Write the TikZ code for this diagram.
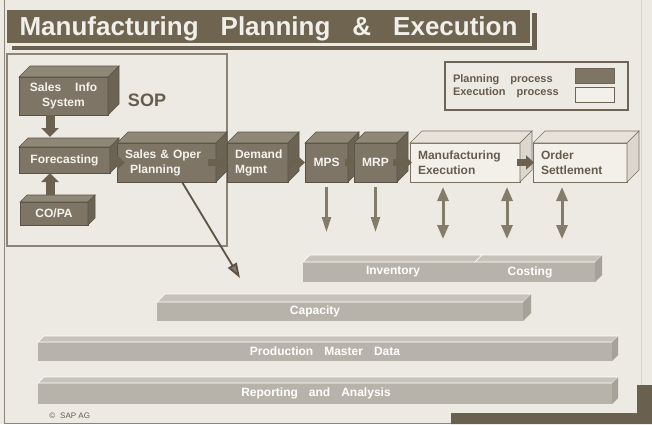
\documentclass[tikz,border=0pt]{standalone}
\usepackage{fontspec}
\setmainfont{Liberation Sans}
\usepackage{tikz}
\usepackage{xcolor}
\usetikzlibrary{arrows.meta, positioning}

\definecolor{paper}{HTML}{EDEAE3}
\definecolor{paperedge}{HTML}{DAD6CE}
\definecolor{frameline}{HTML}{8C8478}
\definecolor{frameshadow}{HTML}{6A604F}
\definecolor{titlebrown}{HTML}{6F6450}
\definecolor{titletext}{HTML}{F1EFEA}
\definecolor{planfront}{HTML}{7E7566}
\definecolor{plantopc}{HTML}{8F8777}
\definecolor{plansidec}{HTML}{6B6354}
\definecolor{planline}{HTML}{5A5246}
\definecolor{execfront}{HTML}{F3F0EA}
\definecolor{exectopc}{HTML}{E6E2DA}
\definecolor{execsidec}{HTML}{DCD7CE}
\definecolor{execline}{HTML}{7A7060}
\definecolor{boxwhite}{HTML}{F4F2EC}
\definecolor{inkbrown}{HTML}{665C4E}
\definecolor{barfront}{HTML}{B8B3AA}
\definecolor{bartopc}{HTML}{C8C3BA}
\definecolor{barsidec}{HTML}{A7A298}
\definecolor{flowbrown}{HTML}{6B6150}
\definecolor{feedgray}{HTML}{857B6B}
\definecolor{lineink}{HTML}{5C5345}
\definecolor{legendline}{HTML}{6E6556}

\newcommand{\titlefont}{\bfseries\fontsize{26}{30}\selectfont\spaceskip=22pt\relax}
\newcommand{\barfont}{\bfseries\fontsize{12}{14}\selectfont\spaceskip=11pt\relax}
\newcommand{\legendfont}{\bfseries\fontsize{11}{13}\selectfont}

% top and side face of a box, #1 node, #2 depth, #3 planning/exec/bar
\newcommand{\cubefaces}[3]{%
  \filldraw[#3top] (#1.north west) -- ([shift={(#2pt,#2pt)}]#1.north west)
    -- ([shift={(#2pt,#2pt)}]#1.north east) -- (#1.north east) -- cycle;
  \filldraw[#3side] (#1.north east) -- ([shift={(#2pt,#2pt)}]#1.north east)
    -- ([shift={(#2pt,#2pt)}]#1.south east) -- (#1.south east) -- cycle;
}

\begin{document}
\begin{tikzpicture}[x=1pt, y=-1pt, semithick]
    \tikzstyle{planbox}=[rectangle, draw=planline, fill=planfront, text=boxwhite, font=\bfseries\fontsize{12}{15}\selectfont, inner xsep=8pt, inner ysep=0pt, outer sep=0pt, minimum height=39pt, align=left]
    \tikzstyle{execbox}=[planbox, draw=execline, fill=execfront, text=inkbrown]
    \tikzstyle{plantop}=[fill=plantopc, draw=planline]
    \tikzstyle{planside}=[fill=plansidec, draw=planline]
    \tikzstyle{exectop}=[fill=exectopc, draw=execline]
    \tikzstyle{execside}=[fill=execsidec, draw=execline]
    \tikzstyle{databar}=[rectangle, fill=barfront, text=white, font=\barfont, inner sep=0pt, outer sep=0pt]
    \tikzstyle{bartop}=[fill=bartopc, draw=white, line width=0.6pt]
    \tikzstyle{barside}=[fill=barsidec, draw=none]
    \tikzstyle{blockflow}=[-{Triangle[width=14pt,length=8pt]}, line width=7pt, draw=flowbrown]
    \tikzstyle{feed}=[-{Triangle[width=9pt,length=15pt]}, line width=2.5pt, draw=feedgray]
    \tikzstyle{feedboth}=[{Triangle[width=11pt,length=14pt]}-{Triangle[width=11pt,length=14pt]}, line width=3pt, draw=feedgray]
    \tikzstyle{swatch}=[rectangle, draw=legendline, minimum width=39pt, minimum height=15pt, inner sep=0pt]

    \useasboundingbox (0,0) rectangle (652,424);
    \fill[paper] (0,0) rectangle (652,424);
    \fill[frameshadow] (451,413) -- (637,413) -- (637,385) -- (652,385) -- (652,424) -- (451,424) -- cycle;
    \draw[frameline] (4,0) -- (4,423) -- (451,423);
    \draw[paperedge, line width=1pt] (641,0) -- (641,385);

    % title
    \fill[frameshadow] (12,46) rectangle (537,50);
    \fill[frameshadow] (532,13) rectangle (537,50);
    \node[fill=titlebrown, text=titletext, font=\titlefont, minimum width=523pt, minimum height=33pt, inner sep=0pt, text depth=0pt] (title) at (268.5,26.5) {Manufacturing Planning \& Execution};

    % SOP area
    \draw[frameline, line width=1.2pt] (7,54) rectangle (227,246);
    \node[font=\bfseries\fontsize{18}{20}\selectfont, text=inkbrown] (soplabel) at (147,100) {SOP};

    \node[planbox, text width=73pt, align=center, minimum height=38pt] (sis) at (63.5,96) {Sales\hspace{14pt}Info\\System};
    \cubefaces{sis}{11}{plan}
    \node[planbox, text width=75pt, align=center, minimum height=26pt] (fc) at (64.5,160) {Forecasting};
    \cubefaces{fc}{9}{plan}
    \node[planbox, text width=52pt, align=center, minimum height=23pt] (copa) at (54,213.5) {CO/PA};
    \cubefaces{copa}{7}{plan}

    % process chain
    \node[planbox, text width=83pt] (sop) at (166.5,162.5) {Sales \& Oper\\\hspace*{5pt}Planning};
    \cubefaces{sop}{11}{plan}
    \node[planbox, text width=45pt, right=11pt of sop] (dem) {Demand\\Mgmt};
    \cubefaces{dem}{11}{plan}
    \node[planbox, text width=27pt, align=center, right=17pt of dem] (mps) {MPS};
    \cubefaces{mps}{11}{plan}
    \node[planbox, text width=27pt, align=center, right=6pt of mps] (mrp) {MRP};
    \cubefaces{mrp}{11}{plan}
    \node[execbox, text width=94pt, right=13pt of mrp] (mex) {Manufacturing\\Execution};
    \cubefaces{mex}{12}{exec}
    \node[execbox, text width=78pt, right=13pt of mex] (ost) {Order\\Settlement};
    \cubefaces{ost}{12}{exec}

    \draw[blockflow] ([yshift=-2.5pt]fc.east) -- ([xshift=8pt]sop.west);
    \draw[blockflow] ([xshift=-8pt]sop.east) -- ([xshift=1pt]dem.west);
    \draw[blockflow] (dem.east) -- (mps.west);
    \draw[blockflow] ([xshift=-3pt]mps.east) -- ([xshift=1pt]mrp.west);
    \draw[blockflow] ([xshift=-4pt]mrp.east) -- ([xshift=2pt]mex.west);
    \draw[blockflow] ([xshift=-3pt]mex.east) -- ([xshift=1pt]ost.west);
    \draw[blockflow, line width=9pt, -{Triangle[width=17pt,length=9pt]}] ([xshift=-13.5pt]sis.south) -- ([xshift=-14.5pt,yshift=10pt]fc.north);
    \draw[blockflow, line width=9pt, -{Triangle[width=17pt,length=9pt]}] ([xshift=-4pt,yshift=7pt]copa.north) -- ([xshift=-14.5pt]fc.south);

    % legend
    \node[draw=legendline, line width=2.5pt, minimum width=183pt, minimum height=48pt, text width=167pt, inner xsep=8pt, align=left, font=\legendfont, text=inkbrown] (legend) at (536.5,86) {Planning\hspace{11pt}process\\Execution\hspace{11pt}process};
    \node[swatch, fill=planfront] (planswatch) at (594.5,75.5) {};
    \node[swatch, fill=execfront] (execswatch) at (594.5,94.5) {};

    % data bars
    \node[databar, minimum width=172pt, minimum height=20pt] (inv) at (389,272) {\hspace*{8pt}Inventory};
    \cubefaces{inv}{7}{bar}
    \node[databar, minimum width=120pt, minimum height=20pt] (cost) at (535,272) {Costing\hspace*{10pt}};
    \cubefaces{cost}{7}{bar}
    \node[databar, minimum width=366pt, minimum height=19pt] (cap) at (340,311.5) {Capacity\hspace*{50pt}};
    \cubefaces{cap}{8}{bar}
    \node[databar, minimum width=574pt, minimum height=19pt] (pmd) at (325,351.5) {Production Master Data};
    \cubefaces{pmd}{6}{bar}
    \node[databar, minimum width=574pt, minimum height=21pt] (rep) at (325,393.5) {Reporting and Analysis\hspace*{18pt}};
    \cubefaces{rep}{6}{bar}

    % links to the bars
    \coordinate (mpsend) at (326.5,232);
    \coordinate (mrpend) at (375.5,232);
    \coordinate (mexinv) at (443,239);
    \coordinate (mexcost) at (507,239);
    \coordinate (ostcost) at (562,239);
    \coordinate (capend) at (240,278);
    \draw[feed] ([yshift=-5pt]mps.south) -- (mpsend);
    \draw[feed] ([yshift=-5pt]mrp.south) -- (mrpend);
    \draw[feedboth] ([xshift=-22pt,yshift=-5pt]mex.south) -- (mexinv);
    \draw[feedboth] ([xshift=42pt,yshift=-5pt]mex.south) -- (mexcost);
    \draw[feedboth] ([xshift=-18pt,yshift=-5pt]ost.south) -- (ostcost);
    \draw[line width=1.8pt, draw=lineink, -{Triangle[width=10pt,length=15pt,fill=feedgray]}] ([xshift=15.5pt]sop.south) -- (capend);

    \node[anchor=west, font=\fontsize{8}{10}\selectfont, text=inkbrown, inner sep=0pt] (copyr) at (49,416) {\textcopyright\hspace{5pt}SAP AG};
\end{tikzpicture}
\end{document}
